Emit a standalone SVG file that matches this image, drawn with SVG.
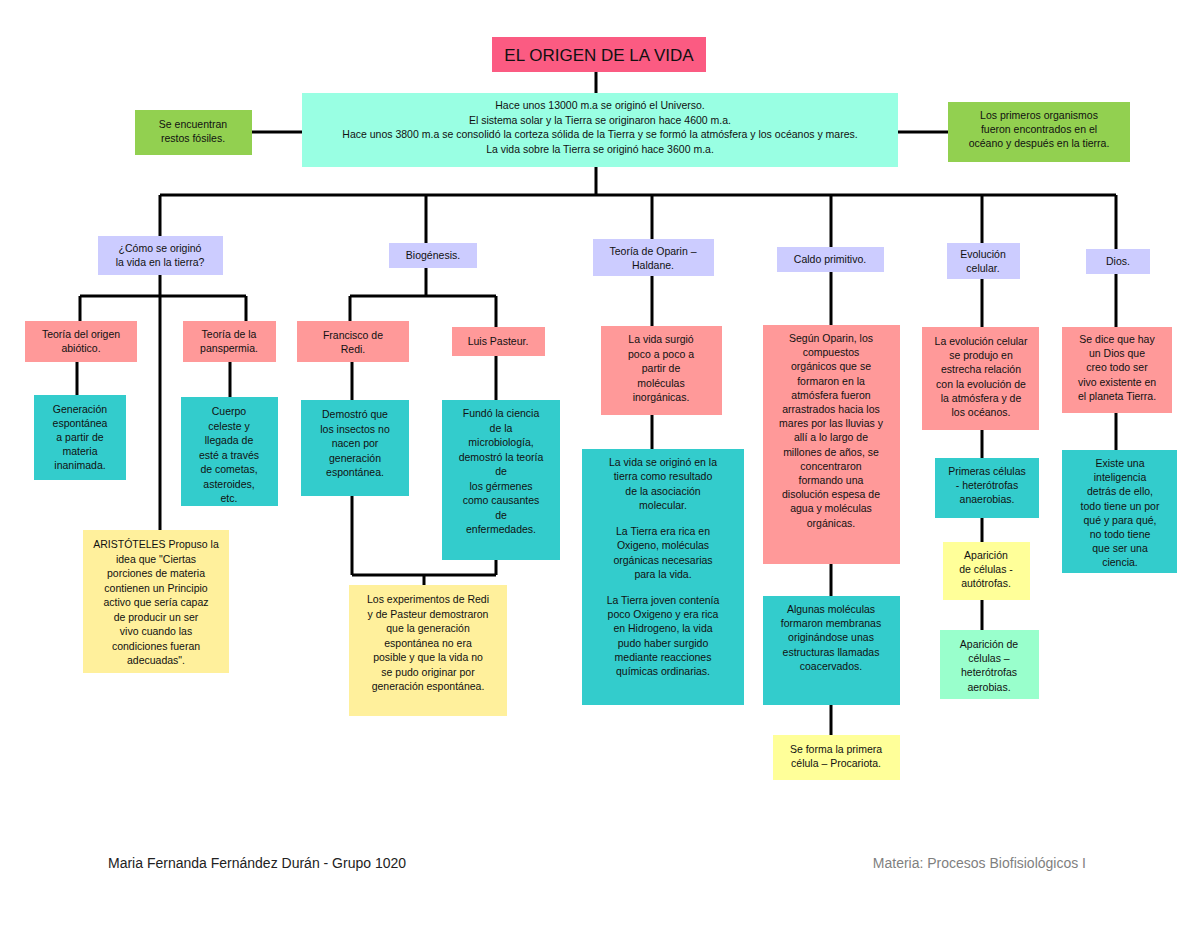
<svg xmlns="http://www.w3.org/2000/svg" width="1200" height="927" viewBox="0 0 1200 927">
<style>
text{font-family:"Liberation Sans","DejaVu Sans",sans-serif;font-size:10.5px;fill:#111;text-anchor:middle}
.ln{stroke:#000;stroke-width:3;fill:none}
.pk{fill:#ff9999}.tl{fill:#33cccc}.lv{fill:#ccccff}.ye{fill:#fff09c}.ly{fill:#ffff99}.gr{fill:#92d050}.mt{fill:#99ffe3}.mg{fill:#99ffcc}
</style>
<rect width="1200" height="927" fill="#fff"/>
<g id="connectors">
<path class="ln" d="M596 72V93M252 132H302M898 132H948M596 167V195M160 195H1116M160 195V236M426 195V243M652 195V239M831 195V247M982 195V243M1116 195V249"/>
<path class="ln" d="M160 275V530M80 296H246M80 296V321M246 296V321M77 362V395M230 362V397"/>
<path class="ln" d="M426 268V296M350 296H496M350 296V321M496 296V327M352 362V400M496 356V400M352 496V575M496 560V575M352 575H496M424 575V585"/>
<path class="ln" d="M652 276V326M652 415V449M831 272V325M831 564V596M831 705V735M982 279V327M982 430V458M982 518V542M982 600V630M1116 274V327M1116 413V450"/>
</g>
<g id="title"><rect x="492" y="37" width="214" height="35" fill="#fb5b82"/><text x="599" y="61" style="font-size:17px">EL ORIGEN DE LA VIDA</text></g>
<g id="main"><rect x="302" y="93" width="596" height="74" class="mt"/><text x="600" y="109"><tspan x="600">Hace unos 13000 m.a se originó el Universo.</tspan><tspan x="600" dy="14.5">El sistema solar y la Tierra se originaron hace 4600 m.a.</tspan><tspan x="600" dy="14.5">Hace unos 3800 m.a se consolidó la corteza sólida de la Tierra y se formó la atmósfera y los océanos y mares.</tspan><tspan x="600" dy="14.5">La vida sobre la Tierra se originó hace 3600 m.a.</tspan></text></g>
<g id="fosiles"><rect x="135" y="110" width="117" height="45" class="gr"/><text x="193" y="128"><tspan x="193">Se encuentran</tspan><tspan x="193" dy="14">restos fósiles.</tspan></text></g>
<g id="primeros"><rect x="948" y="102" width="182" height="60" class="gr"/><text x="1039" y="119"><tspan x="1039">Los primeros organismos</tspan><tspan x="1039" dy="14">fueron encontrados en el</tspan><tspan x="1039" dy="14">océano y después en la tierra.</tspan></text></g>
<g id="como"><rect x="98" y="236" width="125" height="39" class="lv"/><text x="160" y="252"><tspan x="160">¿Cómo se originó</tspan><tspan x="160" dy="14">la vida en la tierra?</tspan></text></g>
<g id="biogenesis"><rect x="389" y="243" width="88" height="25" class="lv"/><text x="433" y="259">Biogénesis.</text></g>
<g id="oparin"><rect x="593" y="239" width="121" height="37" class="lv"/><text x="653" y="255"><tspan x="653">Teoría de Oparin –</tspan><tspan x="653" dy="14">Haldane.</tspan></text></g>
<g id="caldo"><rect x="777" y="247" width="107" height="25" class="lv"/><text x="830" y="263">Caldo primitivo.</text></g>
<g id="evolucion"><rect x="947" y="243" width="73" height="36" class="lv"/><text x="983" y="258"><tspan x="983">Evolución</tspan><tspan x="983" dy="14">celular.</tspan></text></g>
<g id="dios"><rect x="1086" y="249" width="64" height="25" class="lv"/><text x="1118" y="265">Dios.</text></g>
<g id="abiotico"><rect x="25" y="321" width="112" height="41" class="pk"/><text x="81" y="338"><tspan x="81">Teoría del origen</tspan><tspan x="81" dy="14">abiótico.</tspan></text></g>
<g id="panspermia"><rect x="183" y="321" width="93" height="41" class="pk"/><text x="229" y="338"><tspan x="229">Teoría de la</tspan><tspan x="229" dy="14">panspermia.</tspan></text></g>
<g id="generacion"><rect x="34" y="395" width="92" height="85" class="tl"/><text x="80" y="413"><tspan x="80">Generación</tspan><tspan x="80" dy="14">espontánea</tspan><tspan x="80" dy="14">a partir de</tspan><tspan x="80" dy="14">materia</tspan><tspan x="80" dy="14">inanimada.</tspan></text></g>
<g id="cuerpo"><rect x="181" y="397" width="97" height="109" class="tl"/><text x="229" y="415"><tspan x="229">Cuerpo</tspan><tspan x="229" dy="14.5">celeste y</tspan><tspan x="229" dy="14.5">llegada de</tspan><tspan x="229" dy="14.5">esté a través</tspan><tspan x="229" dy="14.5">de cometas,</tspan><tspan x="229" dy="14.5">asteroides,</tspan><tspan x="229" dy="14.5">etc.</tspan></text></g>
<g id="aristoteles"><rect x="83" y="530" width="146" height="143" class="ye"/><text x="156" y="548"><tspan x="156">ARISTÓTELES Propuso la</tspan><tspan x="156" dy="14.5">idea que "Ciertas</tspan><tspan x="156" dy="14.5">porciones de materia</tspan><tspan x="156" dy="14.5">contienen un Principio</tspan><tspan x="156" dy="14.5">activo que sería capaz</tspan><tspan x="156" dy="14.5">de producir un ser</tspan><tspan x="156" dy="14.5">vivo cuando las</tspan><tspan x="156" dy="14.5">condiciones fueran</tspan><tspan x="156" dy="14.5">adecuadas".</tspan></text></g>
<g id="redi"><rect x="297" y="321" width="112" height="41" class="pk"/><text x="353" y="339"><tspan x="353">Francisco de</tspan><tspan x="353" dy="14">Redi.</tspan></text></g>
<g id="pasteur"><rect x="452" y="327" width="93" height="29" class="pk"/><text x="498" y="345">Luis Pasteur.</text></g>
<g id="demostro"><rect x="301" y="400" width="108" height="96" class="tl"/><text x="355" y="418"><tspan x="355">Demostró que</tspan><tspan x="355" dy="14.5">los insectos no</tspan><tspan x="355" dy="14.5">nacen por</tspan><tspan x="355" dy="14.5">generación</tspan><tspan x="355" dy="14.5">espontánea.</tspan></text></g>
<g id="fundo"><rect x="442" y="400" width="118" height="160" class="tl"/><text x="501" y="417"><tspan x="501">Fundó la ciencia</tspan><tspan x="501" dy="14.5">de la</tspan><tspan x="501" dy="14.5">microbiología,</tspan><tspan x="501" dy="14.5">demostró la teoría</tspan><tspan x="501" dy="14.5">de</tspan><tspan x="501" dy="14.5">los gérmenes</tspan><tspan x="501" dy="14.5">como causantes</tspan><tspan x="501" dy="14.5">de</tspan><tspan x="501" dy="14.5">enfermedades.</tspan></text></g>
<g id="experimentos"><rect x="349" y="585" width="158" height="131" class="ye"/><text x="428" y="603"><tspan x="428">Los experimentos de Redi</tspan><tspan x="428" dy="14.5">y de Pasteur demostraron</tspan><tspan x="428" dy="14.5">que la generación</tspan><tspan x="428" dy="14.5">espontánea no era</tspan><tspan x="428" dy="14.5">posible y que la vida no</tspan><tspan x="428" dy="14.5">se pudo originar por</tspan><tspan x="428" dy="14.5">generación espontánea.</tspan></text></g>
<g id="surgio"><rect x="601" y="326" width="121" height="89" class="pk"/><text x="661" y="343"><tspan x="661">La vida surgió</tspan><tspan x="661" dy="14.5">poco a poco a</tspan><tspan x="661" dy="14.5">partir de</tspan><tspan x="661" dy="14.5">moléculas</tspan><tspan x="661" dy="14.5">inorgánicas.</tspan></text></g>
<g id="origino"><rect x="582" y="449" width="162" height="256" class="tl"/><text x="663" y="466"><tspan x="663">La vida se originó en la</tspan><tspan x="663" dy="14.3">tierra como resultado</tspan><tspan x="663" dy="14.3">de la asociación</tspan><tspan x="663" dy="14.3">molecular.</tspan><tspan x="663" dy="26">La Tierra era rica en</tspan><tspan x="663" dy="14.3">Oxigeno, moléculas</tspan><tspan x="663" dy="14.3">orgánicas necesarias</tspan><tspan x="663" dy="14.3">para la vida.</tspan><tspan x="663" dy="26">La Tierra joven contenía</tspan><tspan x="663" dy="14.3">poco Oxigeno y era rica</tspan><tspan x="663" dy="14.3">en Hidrogeno, la vida</tspan><tspan x="663" dy="14.3">pudo haber surgido</tspan><tspan x="663" dy="14.3">mediante reacciones</tspan><tspan x="663" dy="14.3">químicas ordinarias.</tspan></text></g>
<g id="segun"><rect x="763" y="325" width="137" height="239" class="pk"/><text x="831" y="342"><tspan x="831">Según Oparin, los</tspan><tspan x="831" dy="14.2">compuestos</tspan><tspan x="831" dy="14.2">orgánicos que se</tspan><tspan x="831" dy="14.2">formaron en la</tspan><tspan x="831" dy="14.2">atmósfera fueron</tspan><tspan x="831" dy="14.2">arrastrados hacia los</tspan><tspan x="831" dy="14.2">mares por las lluvias y</tspan><tspan x="831" dy="14.2">allí a lo largo de</tspan><tspan x="831" dy="14.2">millones de años, se</tspan><tspan x="831" dy="14.2">concentraron</tspan><tspan x="831" dy="14.2">formando una</tspan><tspan x="831" dy="14.2">disolución espesa de</tspan><tspan x="831" dy="14.2">agua y moléculas</tspan><tspan x="831" dy="14.2">orgánicas.</tspan></text></g>
<g id="algunas"><rect x="763" y="596" width="137" height="109" class="tl"/><text x="831" y="613"><tspan x="831">Algunas moléculas</tspan><tspan x="831" dy="14.2">formaron membranas</tspan><tspan x="831" dy="14.2">originándose unas</tspan><tspan x="831" dy="14.2">estructuras llamadas</tspan><tspan x="831" dy="14.2">coacervados.</tspan></text></g>
<g id="seforma"><rect x="773" y="735" width="127" height="45" class="ly"/><text x="836" y="753"><tspan x="836">Se forma la primera</tspan><tspan x="836" dy="14">célula – Procariota.</tspan></text></g>
<g id="evol"><rect x="922" y="327" width="117" height="103" class="pk"/><text x="981" y="345"><tspan x="981">La evolución celular</tspan><tspan x="981" dy="14.2">se produjo en</tspan><tspan x="981" dy="14.2">estrecha relación</tspan><tspan x="981" dy="14.2">con la evolución de</tspan><tspan x="981" dy="14.2">la atmósfera y de</tspan><tspan x="981" dy="14.2">los océanos.</tspan></text></g>
<g id="primeras"><rect x="935" y="458" width="104" height="60" class="tl"/><text x="987" y="475"><tspan x="987">Primeras células</tspan><tspan x="987" dy="14.2">- heterótrofas</tspan><tspan x="987" dy="14.2">anaerobias.</tspan></text></g>
<g id="autotrofas"><rect x="943" y="542" width="87" height="58" class="ly"/><text x="986" y="559"><tspan x="986">Aparición</tspan><tspan x="986" dy="14.2">de células -</tspan><tspan x="986" dy="14.2">autótrofas.</tspan></text></g>
<g id="aerobias"><rect x="940" y="630" width="99" height="69" class="mg"/><text x="989" y="648"><tspan x="989">Aparición de</tspan><tspan x="989" dy="14.2">células –</tspan><tspan x="989" dy="14.2">heterótrofas</tspan><tspan x="989" dy="14.2">aerobias.</tspan></text></g>
<g id="sedice"><rect x="1062" y="327" width="110" height="86" class="pk"/><text x="1117" y="343"><tspan x="1117">Se dice que hay</tspan><tspan x="1117" dy="14.2">un Dios que</tspan><tspan x="1117" dy="14.2">creo todo ser</tspan><tspan x="1117" dy="14.2">vivo existente en</tspan><tspan x="1117" dy="14.2">el planeta Tierra.</tspan></text></g>
<g id="existe"><rect x="1062" y="450" width="115" height="123" class="tl"/><text x="1120" y="467"><tspan x="1120">Existe una</tspan><tspan x="1120" dy="14.2">inteligencia</tspan><tspan x="1120" dy="14.2">detrás de ello,</tspan><tspan x="1120" dy="14.2">todo tiene un por</tspan><tspan x="1120" dy="14.2">qué y para qué,</tspan><tspan x="1120" dy="14.2">no todo tiene</tspan><tspan x="1120" dy="14.2">que ser una</tspan><tspan x="1120" dy="14.2">ciencia.</tspan></text></g>
<g id="footer"><text x="108" y="868" style="text-anchor:start;font-size:14px;fill:#222">Maria Fernanda Fernández Durán - Grupo 1020</text><text x="1086" y="868" style="text-anchor:end;font-size:14px;fill:#7f7f7f">Materia: Procesos Biofisiológicos I</text></g>
</svg>
